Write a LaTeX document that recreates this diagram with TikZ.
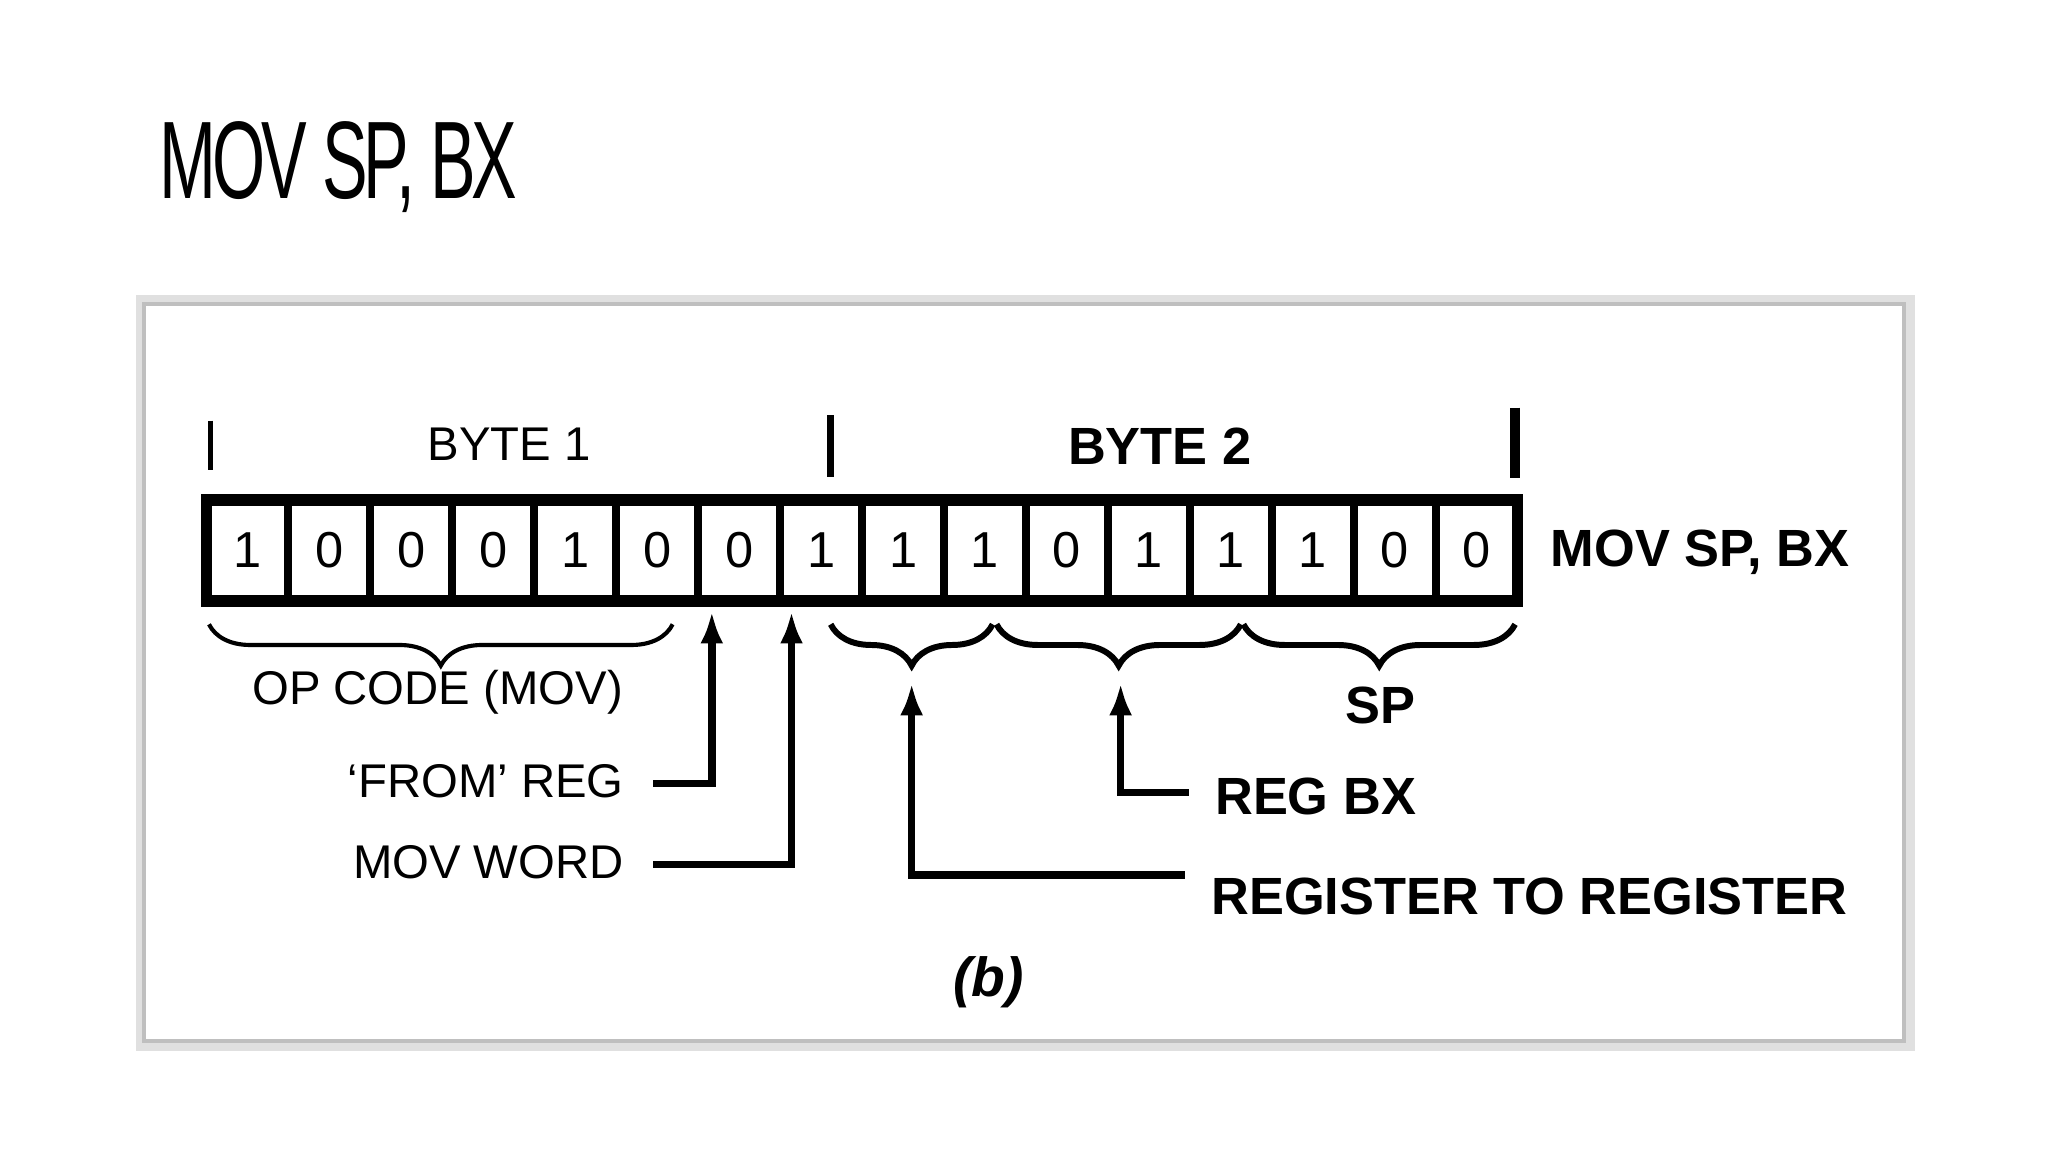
\documentclass[tikz,border=0pt]{standalone}
\usepackage{fontspec}
\setmainfont{Liberation Sans}
\usetikzlibrary{decorations.pathreplacing,arrows.meta}
\begin{document}
\begin{tikzpicture}[x=0.01cm,y=-0.01cm,
  lbl/.style={font=\fontsize{10.3pt}{12pt}\selectfont},
  blbl/.style={font=\bfseries\fontsize{11.4pt}{13pt}\selectfont},
  bit/.style={font=\fontsize{11pt}{13pt}\selectfont},
  brc/.style={decorate,decoration={brace,mirror,amplitude=9pt},line width=1.3pt},
  arr/.style={line width=1.6pt,-{Latex[length=7pt,width=5pt]}}]
\useasboundingbox (0,0) rectangle (1568,882);
\node[font=\fontsize{24pt}{28pt}\selectfont,anchor=west,inner sep=0,xscale=0.62] (title) at (122,128) {\addfontfeature{LetterSpace=-6}MOV SP, BX};
% panel with shadow
\fill[black!12] (104,226) rectangle (1466,805);
\fill[white] (110,233) rectangle (1458,797);
\draw[black!25,line width=0.8pt] (110,233) rectangle (1458,797);
% ticks
\draw[line width=1.2pt] (161,322) -- (161,360);
\draw[line width=1.5pt] (636,318) -- (636,365);
\draw[line width=2.2pt] (1160,312) -- (1160,366);
\node[lbl] (b1) at (390,340) {BYTE 1};
\node[blbl] (b2) at (888,342) {BYTE 2};
% register
\draw[line width=2.5pt] (158,383) rectangle (1162,460);
\foreach \i/\b in {0/1,1/0,2/0,3/0,4/1,5/0,6/0,7/1,8/1,9/1,10/0,11/1,12/1,13/1,14/0,15/0}{
  \pgfmathsetmacro\xa{158+\i*62.75}
  \ifnum\i>0 \draw[line width=1.8pt] (\xa,383) -- (\xa,460);\fi
  \node[bit] (c\i) at (\xa+31.4,421) {\b};
}
\node[blbl,anchor=west] (mov) at (1175,423) {MOV SP, BX};
% braces
\draw[brc,line width=0.9pt] (160,478) -- (515,478);
\draw[brc] (636,478) -- (760,478);
\draw[brc] (763,478) -- (950,478);
\draw[brc] (952,478) -- (1160,478);
\node[lbl] (op) at (335,530) {OP CODE (MOV)};
\node[blbl] (sp) at (1057,540) {SP};
% left arrows
\node[lbl,anchor=east] (from) at (490,598) {`FROM' REG};
\node[lbl,anchor=east] (mw) at (490,660) {MOV WORD};
\coordinate (fa) at (545,468); \coordinate (ma) at (606,468);
\draw[arr] (from.east) ++(10,2) -| (fa);
\draw[arr] (mw.east) ++(10,2) -| (ma);
% right arrows
\node[blbl,anchor=west] (rbx) at (918,610) {REG BX};
\node[blbl,anchor=west] (rr) at (915,686) {REGISTER TO REGISTER};
\coordinate (ra) at (858,523); \coordinate (rra) at (698,523);
\draw[arr] (rbx.west) ++(-8,-3) -| (ra);
\draw[arr] (rr.west) ++(-8,-16) -| (rra);
\node[font=\itshape\bfseries\fontsize{12pt}{14pt}\selectfont] (b) at (757,752) {(b)};
\end{tikzpicture}
\end{document}
